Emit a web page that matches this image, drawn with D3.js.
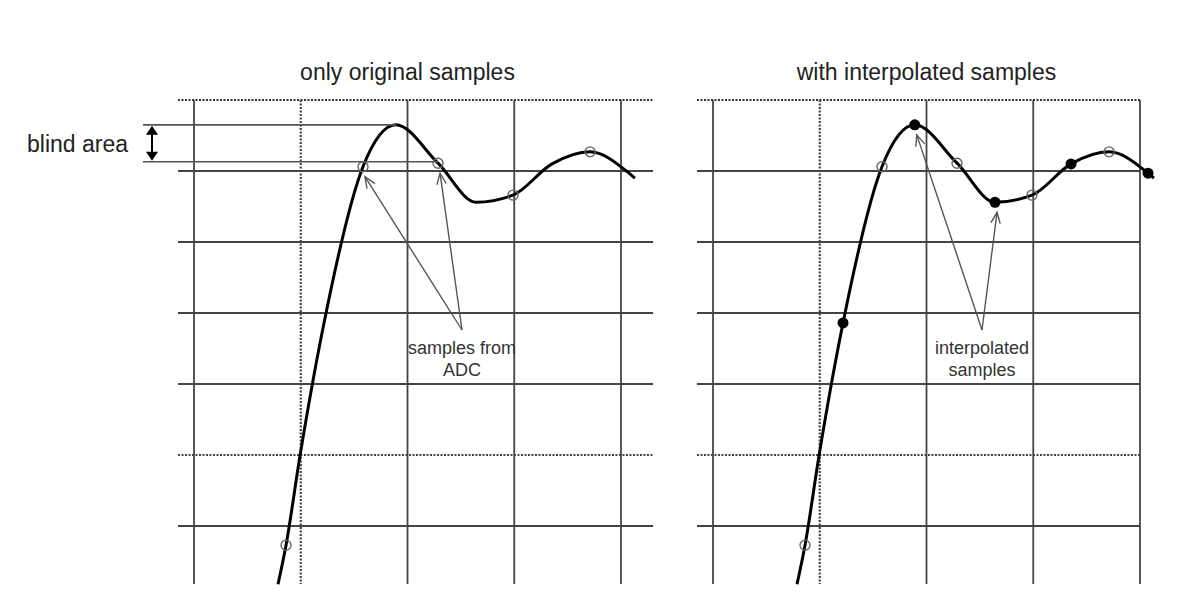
<!DOCTYPE html>
<html><head><meta charset="utf-8">
<script src="https://cdn.jsdelivr.net/npm/d3@7"></script>
<style>body{margin:0;background:#fff}</style>
</head><body>
<svg id="chart" width="1200" height="606"></svg>
<script>
const w = 1200, h = 606;
const svg = d3.select('#chart').style('background', '#fff');

// grid units: columns (x) and rows (y)
const colTicks = [0, 1, 2, 3, 4];
const dottedCols = [1];
const rowTicks = [1, 2, 3, 4, 5, 6];
const dottedRows = [5];

// curve through the signal, grid units
const curveX = [0.787, 0.862, 0.993, 1.218, 1.583, 1.89, 2.286, 2.642, 2.988, 3.354, 3.71, 4.075, 4.13];
const curveY = [6.82, 6.27, 5.01, 3.14, 0.94, 0.35, 0.89, 1.44, 1.34, 0.90, 0.73, 1.03, 1.10];

// sample markers (indices into curve arrays)
const adcSamples = [1, 4, 6, 8, 10];
const interpSamples = [3, 5, 7, 9, 11];

const titles = ['only original samples', 'with interpolated samples'];
const offsets = [0, 519];
const rowEnds = [4.3, 4.0];

const curvePts = curveX.map((x, i) => [x, curveY[i]]);
const font = 'Arial, Liberation Sans, sans-serif';

function drawPanel(k) {
	const dx = offsets[k];
	const x = d3.scaleLinear().domain([0, 4]).range([194 + dx, 621 + dx]);
	const y = d3.scaleLinear().domain([0, 6]).range([100, 526]);
	const g = svg.append('g');

	g.append('text').attr('x', x(2)).attr('y', 80).attr('text-anchor', 'middle')
		.style('font-family', font).style('font-size', '23px').attr('fill', '#222')
		.text(titles[k]);

	g.append('line').attr('x1', x(-0.15)).attr('x2', x(rowEnds[k])).attr('y1', y(0)).attr('y2', y(0))
		.attr('stroke', '#333').attr('stroke-width', 2.2).attr('stroke-dasharray', '2,1.5');

	g.selectAll('.row').data(rowTicks).enter().append('line')
		.attr('x1', x(-0.15)).attr('x2', x(rowEnds[k]))
		.attr('y1', d => y(d)).attr('y2', d => y(d))
		.attr('stroke', '#444').attr('stroke-width', d => dottedRows.includes(d) ? 2.2 : 1.8)
		.attr('stroke-dasharray', d => dottedRows.includes(d) ? '2,1.5' : null);

	g.selectAll('.col').data(colTicks).enter().append('line')
		.attr('x1', d => x(d)).attr('x2', d => x(d))
		.attr('y1', y(0)).attr('y2', 584)
		.attr('stroke', '#444').attr('stroke-width', d => dottedCols.includes(d) ? 2.2 : 1.8)
		.attr('stroke-dasharray', d => dottedCols.includes(d) ? '2,1.5' : null);

	const line = d3.line().x(d => x(d[0])).y(d => y(d[1])).curve(d3.curveMonotoneX);
	g.append('path').attr('d', line(curvePts)).attr('fill', 'none')
		.attr('stroke', '#000').attr('stroke-width', 3);

	g.selectAll('.adc').data(adcSamples).enter().append('circle')
		.attr('cx', i => x(curveX[i])).attr('cy', i => y(curveY[i])).attr('r', 5)
		.attr('fill', 'none').attr('stroke', '#666').attr('stroke-width', 1.4);

	return {g, x, y};
}

const left = drawPanel(0);
const right = drawPanel(1);

right.g.selectAll('.int').data(interpSamples).enter().append('circle')
	.attr('cx', i => right.x(curveX[i])).attr('cy', i => right.y(curveY[i])).attr('r', 5.5)
	.attr('fill', '#000');

// blind area
const ly = left.y, lx = left.x;
const yTop = ly(curveY[5]), yBot = ly(0.87);
svg.append('line').attr('x1', 143).attr('x2', lx(curveX[5])).attr('y1', yTop).attr('y2', yTop)
	.attr('stroke', '#555').attr('stroke-width', 1.6);
svg.append('line').attr('x1', 143).attr('x2', lx(curveX[6])).attr('y1', yBot).attr('y2', yBot)
	.attr('stroke', '#555').attr('stroke-width', 1.6);
svg.append('line').attr('x1', 152).attr('x2', 152).attr('y1', yTop + 4).attr('y2', yBot - 4)
	.attr('stroke', '#000').attr('stroke-width', 2);
svg.append('path').attr('d', `M146,${yTop + 10} L152,${yTop + 1} L158,${yTop + 10}Z`).attr('fill', '#000');
svg.append('path').attr('d', `M146,${yBot - 10} L152,${yBot - 1} L158,${yBot - 10}Z`).attr('fill', '#000');
svg.append('text').attr('x', 27).attr('y', 152).style('font-family', font)
	.style('font-size', '23px').attr('fill', '#222').text('blind area');

function note(p, lines, cx, targets) {
	targets.forEach(i => {
		const tx = p.x(curveX[i]) + 2, ty = p.y(curveY[i]) + 10;
		const a = Math.atan2(330 - ty, cx - tx);
		svg.append('line').attr('x1', cx).attr('y1', 330).attr('x2', tx).attr('y2', ty)
			.attr('stroke', '#555').attr('stroke-width', 1.4);
		const s = 12, sp = 0.4;
		svg.append('path')
			.attr('d', `M${tx + s * Math.cos(a - sp)},${ty + s * Math.sin(a - sp)} L${tx},${ty} L${tx + s * Math.cos(a + sp)},${ty + s * Math.sin(a + sp)}`)
			.attr('fill', 'none').attr('stroke', '#555').attr('stroke-width', 1.4);
	});
	lines.forEach((t, j) => svg.append('text').attr('x', cx).attr('y', 354 + j * 22)
		.attr('text-anchor', 'middle').style('font-family', font)
		.style('font-size', '18px').attr('fill', '#333').text(t));
}
note(left, ['samples from', 'ADC'], 462, [4, 6]);
note(right, ['interpolated', 'samples'], 982, [5, 7]);
</script>
</body></html>
